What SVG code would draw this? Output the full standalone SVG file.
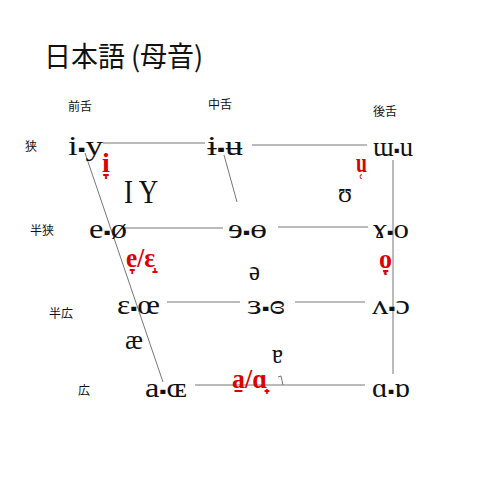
<svg xmlns="http://www.w3.org/2000/svg" width="480" height="480" viewBox="0 0 480 480">
<style>
.ipa{font-family:"Liberation Serif","DejaVu Serif",serif;font-size:27px;fill:#111}
.sq{font-size:17px}
.red{font-family:"Liberation Serif","DejaVu Serif",serif;font-size:28px;font-weight:bold;fill:#dd0000}
.jp{font-family:"Noto Sans CJK JP","Noto Sans",sans-serif;font-size:12px;fill:#111}
.title{font-family:"Noto Sans CJK JP","Noto Sans",sans-serif;font-size:28px;fill:#111}
.ln{stroke:#777;stroke-width:1;fill:none}
</style>
<rect width="480" height="480" fill="#fff"/>
<g id="connectors">
<line class="ln" x1="103" y1="143" x2="205" y2="143"/>
<line class="ln" x1="252" y1="145" x2="367" y2="145"/>
<line class="ln" x1="125" y1="228" x2="223" y2="228"/>
<line class="ln" x1="278" y1="227" x2="368" y2="227"/>
<line class="ln" x1="167" y1="302" x2="240" y2="302"/>
<line class="ln" x1="295" y1="302" x2="365" y2="302"/>
<line class="ln" x1="195" y1="385" x2="365" y2="385"/>
<line class="ln" x1="85" y1="153" x2="163" y2="382"/>
<line class="ln" x1="224" y1="155" x2="237" y2="202"/>
<line class="ln" x1="393" y1="160" x2="393" y2="374"/>
<path class="ln" d="M278,377 L281,376 L283,385"/>
</g>
<g id="title"><text class="title" x="44" y="67" textLength="159" lengthAdjust="spacingAndGlyphs">日本語 (母音)</text></g>
<g id="labels">
<text class="jp" x="68" y="111">前舌</text>
<text class="jp" x="208" y="109">中舌</text>
<text class="jp" x="373" y="116">後舌</text>
<text class="jp" x="25" y="151">狭</text>
<text class="jp" x="30" y="235">半狭</text>
<text class="jp" x="49" y="318">半広</text>
<text class="jp" x="78" y="395">広</text>
</g>
<g id="n-iy"><text class="ipa" x="68" y="155" textLength="35" lengthAdjust="spacingAndGlyphs">i<tspan class="sq">▪</tspan>y</text></g>
<g id="n-central-close"><text class="ipa" x="207" y="155" textLength="36" lengthAdjust="spacingAndGlyphs">ɨ<tspan class="sq">▪</tspan>ʉ</text></g>
<g id="n-back-close"><text class="ipa" x="373" y="156" textLength="40" lengthAdjust="spacingAndGlyphs">ɯ<tspan class="sq">▪</tspan>u</text></g>
<g id="n-e"><text class="ipa" x="89" y="238" textLength="38" lengthAdjust="spacingAndGlyphs">e<tspan class="sq">▪</tspan>ø</text></g>
<g id="n-central-closemid"><text class="ipa" x="228" y="238" textLength="39" lengthAdjust="spacingAndGlyphs">ɘ<tspan class="sq">▪</tspan>ɵ</text></g>
<g id="n-back-closemid"><text class="ipa" x="373" y="238" textLength="36" lengthAdjust="spacingAndGlyphs">ɤ<tspan class="sq">▪</tspan>o</text></g>
<g id="n-openmid"><text class="ipa" x="117" y="314" textLength="43" lengthAdjust="spacingAndGlyphs">ɛ<tspan class="sq">▪</tspan>œ</text></g>
<g id="n-central-openmid"><text class="ipa" x="247" y="314" textLength="38" lengthAdjust="spacingAndGlyphs">ɜ<tspan class="sq">▪</tspan>ɞ</text></g>
<g id="n-back-openmid"><text class="ipa" x="372" y="314" textLength="38" lengthAdjust="spacingAndGlyphs">ʌ<tspan class="sq">▪</tspan>ɔ</text></g>
<g id="n-open"><text class="ipa" x="145" y="397" textLength="42" lengthAdjust="spacingAndGlyphs">a<tspan class="sq">▪</tspan>ɶ</text></g>
<g id="n-back-open"><text class="ipa" x="372" y="397" textLength="38" lengthAdjust="spacingAndGlyphs">ɑ<tspan class="sq">▪</tspan>ɒ</text></g>
<g id="n-IY"><text class="ipa" style="font-size:33px" x="124" y="203" textLength="34" lengthAdjust="spacingAndGlyphs">I Y</text></g>
<g id="n-upsilon"><text class="ipa" x="338" y="202" textLength="14" lengthAdjust="spacingAndGlyphs">ʊ</text></g>
<g id="n-schwa"><text class="ipa" x="249" y="280" textLength="11" lengthAdjust="spacingAndGlyphs">ə</text></g>
<g id="n-ae"><text class="ipa" x="125" y="349" textLength="18" lengthAdjust="spacingAndGlyphs">æ</text></g>
<g id="n-turned-a"><text class="ipa" x="272" y="363" textLength="11" lengthAdjust="spacingAndGlyphs">ɐ</text></g>
<g id="r-i"><text class="red" x="102" y="172">i̞</text></g>
<g id="r-u"><text class="red" x="356" y="172" textLength="11" lengthAdjust="spacingAndGlyphs">u̜</text></g>
<g id="r-e"><text class="red" x="126" y="267" textLength="29" lengthAdjust="spacingAndGlyphs">e̞/ɛ̝</text></g>
<g id="r-o"><text class="red" x="379" y="268" textLength="13" lengthAdjust="spacingAndGlyphs">o̜̞</text></g>
<g id="r-a"><text class="red" x="232" y="388" textLength="35" lengthAdjust="spacingAndGlyphs">a̠/ɑ̟</text></g>
</svg>
